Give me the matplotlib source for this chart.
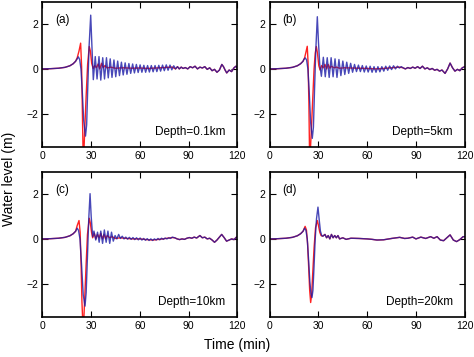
import matplotlib
matplotlib.use("Agg")
import matplotlib.pyplot as plt

plt.rcParams['font.family'] = ['Liberation Sans', 'DejaVu Sans']

# common pre-arrival rise (min, m)
pre_t = [0, 5, 10, 14, 17, 19, 20.5]
pre_y = [0.0, 0.01, 0.03, 0.07, 0.14, 0.23, 0.34]

# (a) depth 0.1 km
red_a_t = [21.5, 22.6, 23.6, 24.2, 24.7, 25.1, 25.6, 26.2, 27.0, 27.9, 28.9, 29.6, 30.4, 31.3, 32.3,
           33.3, 34.4, 35.4, 36.5, 37.5, 38.6, 40.0, 42.0, 45.0, 50.0, 55.0, 60.0, 65.0, 70.0, 75.0, 80.0]
red_a_y = [0.5, 0.8, 1.15, 0.1, -2.0, -3.7, -3.7, -2.6, -1.2, 0.2, 1.0, 0.8, 0.25, 0.02, 0.15,
           0.05, 0.22, 0.0, 0.25, 0.05, 0.15, 0.04, 0.08, 0.03, 0.05, 0.03, 0.04, 0.02, 0.04, 0.06, 0.08]
blue_a_t = [21.5, 22.2, 23.0, 23.8, 24.6, 25.5, 26.6, 27.3, 28.0, 28.8, 29.8, 30.5,
            31.4, 32.6, 33.7, 34.9, 36.0, 37.2, 38.3, 39.5, 40.6, 41.8, 42.9, 44.1, 45.2, 46.4,
            47.5, 48.7, 49.8, 51.0, 52.1, 53.3, 54.4, 55.6, 56.7, 57.9, 59.0, 60.2, 61.3, 62.5,
            63.6, 64.8, 65.9, 67.1, 68.2, 69.4, 70.5, 71.7, 72.8, 74.0, 75.1, 76.3, 77.4, 78.6,
            79.7, 80.9]
blue_a_y = [0.45, 0.54, 0.42, 0.0, -1.0, -2.3, -3.0, -2.5, -0.8, 1.0, 2.4, 1.1,
            -0.48, 0.55, -0.45, 0.55, -0.5, 0.5, -0.45, 0.5, -0.4, 0.45, -0.38, 0.4, -0.35, 0.35,
            -0.3, 0.3, -0.27, 0.27, -0.24, 0.24, -0.2, 0.22, -0.18, 0.2, -0.16, 0.18, -0.15, 0.16,
            -0.15, 0.15, -0.14, 0.15, -0.13, 0.15, -0.12, 0.16, -0.1, 0.17, -0.08, 0.18, -0.06, 0.17,
            -0.04, 0.14]
tail_a_t = [82.0, 83.2, 84.3, 85.5, 86.6, 88.0, 89.5, 91.0, 92.5, 94.0, 95.5, 97.0, 98.5, 100.0,
            101.5, 103.0, 104.5, 106.0, 107.5, 109.0, 110.5, 111.5, 112.5, 113.5, 115.0, 116.5,
            118.0, 119.2, 120.0]
tail_a_y = [0.0, 0.1, 0.0, 0.08, 0.02, 0.06, 0.0, 0.1, 0.05, 0.12, 0.0, 0.08, 0.04, 0.1,
            -0.02, 0.05, -0.08, -0.02, -0.15, -0.05, 0.2, 0.1, -0.05, -0.18, -0.05, -0.12,
            0.05, 0.12, 0.05]

# (b) depth 5 km
red_b_t = [21.5, 22.3, 23.1, 23.6, 24.1, 24.5, 25.0, 25.7, 26.5, 27.3, 28.0, 28.7, 29.4, 30.2, 31.0,
           32.0, 33.0, 34.0, 35.0, 36.0, 37.0, 38.0, 39.5, 41.0, 43.0, 46.0, 50.0, 55.0, 60.0, 65.0,
           70.0, 75.0, 80.0]
red_b_y = [0.5, 0.75, 1.01, 0.3, -1.5, -3.7, -3.7, -2.6, -1.3, 0.0, 0.7, 1.0, 0.7, 0.15, -0.05,
           0.15, 0.05, 0.2, 0.0, 0.2, 0.03, 0.12, 0.05, 0.08, 0.03, 0.05, 0.04, 0.03, 0.02, 0.0,
           0.02, 0.05, 0.08]
blue_b_t = [21.0, 21.9, 22.7, 23.5, 24.3, 25.2, 26.2, 26.9, 27.6, 28.4, 29.3, 30.0, 30.8,
            31.8, 33.0, 34.2, 35.4, 36.6, 37.8, 39.0, 40.2, 41.4, 42.6, 43.8, 45.0, 46.2, 47.4,
            48.6, 49.8, 51.0, 52.2, 53.4, 54.6, 55.8, 57.0, 58.2, 59.4, 60.6, 61.8, 63.0, 64.2,
            65.4, 66.6, 67.8, 69.0, 70.2, 71.4, 72.6, 73.8, 75.0, 76.2, 77.4, 78.6, 79.8, 81.0]
blue_b_y = [0.42, 0.49, 0.4, 0.0, -1.0, -2.4, -3.1, -2.6, -0.9, 0.9, 2.33, 1.2, 0.2,
            -0.33, 0.52, -0.35, 0.5, -0.38, 0.5, -0.35, 0.45, -0.38, 0.42, -0.3, 0.35, -0.25, 0.3,
            -0.2, 0.25, -0.15, 0.2, -0.12, 0.17, -0.12, 0.15, -0.14, 0.13, -0.14, 0.12, -0.15, 0.1,
            -0.15, 0.1, -0.13, 0.1, -0.1, 0.12, -0.06, 0.13, -0.03, 0.14, 0.0, 0.12, 0.04, 0.1]
tail_b_t = [82.0, 83.5, 85.0, 86.5, 88.0, 89.5, 91.0, 92.5, 94.0, 95.5, 97.0, 98.5, 100.0, 101.5,
            103.0, 104.5, 106.0, 107.9, 109.5, 111.0, 112.5, 114.0, 115.5, 117.0, 118.5, 120.0]
tail_b_y = [0.05, 0.0, 0.06, 0.02, 0.08, 0.03, 0.1, 0.02, 0.12, 0.0, 0.05, -0.03, 0.02, -0.06,
            -0.02, -0.1, -0.05, -0.2, 0.0, 0.26, 0.05, -0.1, -0.02, -0.08, 0.05, 0.1]

# (c) depth 10 km
red_c_t = [21.5, 22.6, 23.3, 23.9, 24.4, 24.9, 25.5, 26.2, 27.0, 27.8, 28.9, 29.6, 30.3, 31.0, 32.0,
           33.0, 34.0, 35.0, 36.0, 37.0, 38.0, 39.0, 40.0, 41.5, 43.0, 45.0, 48.0, 52.0, 56.0, 60.0,
           64.0, 68.0, 72.0, 76.0, 80.0]
red_c_y = [0.6, 0.82, 0.3, -1.2, -2.8, -3.7, -3.7, -2.5, -1.1, 0.2, 0.92, 0.7, 0.3, 0.05, 0.25,
           0.0, 0.2, 0.05, 0.25, 0.0, 0.2, 0.0, 0.15, 0.05, 0.1, 0.02, 0.05, 0.02, 0.0, 0.0,
           -0.03, -0.05, -0.02, 0.02, 0.06]
blue_c_t = [21.5, 22.3, 23.2, 24.2, 25.2, 26.3, 27.0, 27.8, 28.6, 29.4, 30.1, 31.0,
            31.8, 32.9, 34.0, 35.0, 36.0, 37.1, 38.2, 39.3, 40.4, 41.5, 42.6, 43.7, 44.8, 45.9,
            47.0, 48.1, 49.2, 50.3, 51.4, 52.5, 53.6, 54.7, 55.8, 56.9, 58.0, 59.1, 60.2, 61.3,
            62.4, 63.5, 64.6, 65.7, 66.8, 67.9, 69.0, 70.1, 71.2, 72.3, 73.4, 74.5, 75.6, 76.7,
            77.8, 78.9, 80.0]
blue_c_y = [0.48, 0.38, 0.0, -1.2, -2.5, -3.0, -2.4, -0.8, 0.9, 2.02, 1.0, 0.1,
            0.35, -0.05, 0.3, -0.15, 0.35, -0.2, 0.4, -0.15, 0.35, -0.2, 0.3, -0.1, 0.15, 0.0,
            0.2, 0.02, 0.12, 0.0, 0.08, -0.01, 0.07, -0.02, 0.06, -0.03, 0.05, -0.04, 0.04, -0.05,
            0.02, -0.06, 0.01, -0.07, 0.0, -0.07, 0.0, -0.05, 0.02, -0.04, 0.03, -0.02, 0.04, 0.0,
            0.05, 0.02, 0.08]
tail_c_t = [81.5, 83.0, 84.5, 86.0, 87.5, 89.0, 90.5, 92.0, 93.5, 95.0, 97.0, 98.5, 100.0, 101.5,
            103.0, 104.5, 106.0, 107.5, 109.0, 110.4, 112.0, 113.4, 115.0, 116.5, 118.0, 119.5, 120.0]
tail_c_y = [0.05, 0.0, -0.03, 0.0, -0.02, 0.03, 0.06, 0.03, 0.08, 0.04, 0.15, 0.05, 0.08, 0.0,
            0.03, -0.05, -0.15, -0.05, 0.08, 0.2, 0.05, -0.1, -0.05, 0.0, -0.03, 0.08, 0.06]

# (d) depth 20 km
red_d_t = [21.8, 22.6, 23.3, 24.0, 24.6, 25.2, 25.8, 26.5, 27.3, 28.2, 29.3, 30.0, 30.8, 31.6, 32.5]
red_d_y = [0.56, 0.4, -0.2, -1.3, -2.3, -2.84, -2.5, -1.5, -0.4, 0.5, 0.82, 0.6, 0.3, 0.15, 0.12]
blue_d_t = [21.5, 22.3, 23.1, 23.9, 24.7, 25.4, 26.0, 26.6, 27.3, 28.0, 28.8, 29.7, 30.4, 31.2,
            32.0, 32.8]
blue_d_y = [0.48, 0.38, 0.0, -0.9, -1.9, -2.45, -2.62, -2.3, -1.2, 0.0, 0.9, 1.42, 0.9, 0.35,
            0.15, 0.12]
tail_d_t = [34.0, 35.0, 36.0, 37.0, 38.0, 39.0, 40.0, 41.0, 42.0, 43.0, 45.0, 47.0, 50.0, 55.0,
            60.0, 63.0, 66.0, 70.0, 75.0, 80.0, 83.0, 85.0, 88.0, 90.0, 93.0, 96.0, 99.0, 101.0,
            103.0, 105.0, 107.0, 109.0, 111.0, 113.0, 115.0, 117.0, 119.0, 120.0]
tail_d_y = [0.2, 0.05, 0.15, 0.0, 0.2, 0.05, 0.15, 0.05, 0.15, 0.0, 0.05, -0.02, 0.03, 0.02,
            0.0, -0.02, -0.05, -0.04, 0.02, 0.07, 0.02, 0.03, 0.08, 0.0, 0.08, 0.02, 0.1, 0.03,
            0.1, -0.05, -0.08, 0.05, 0.18, -0.05, -0.12, -0.03, 0.1, 0.1]

panels = [
    ("(a)", "Depth=0.1km", red_a_t, red_a_y, blue_a_t, blue_a_y, tail_a_t, tail_a_y),
    ("(b)", "Depth=5km", red_b_t, red_b_y, blue_b_t, blue_b_y, tail_b_t, tail_b_y),
    ("(c)", "Depth=10km", red_c_t, red_c_y, blue_c_t, blue_c_y, tail_c_t, tail_c_y),
    ("(d)", "Depth=20km", red_d_t, red_d_y, blue_d_t, blue_d_y, tail_d_t, tail_d_y),
]

fig = plt.figure(figsize=(4.74, 3.57), dpi=100)

lefts = [0.0892, 0.569, 0.0892, 0.569]
bottoms = [0.5874, 0.5874, 0.1112, 0.1112]

for i, (tag, depth, rt, ry, bt, by, tt, ty) in enumerate(panels):
    ax = fig.add_axes([lefts[i], bottoms[i], 0.4114, 0.4078])
    ax.plot(pre_t + rt + tt, pre_y + ry + ty, color='#ff2222', lw=1.0)
    ax.plot(pre_t + bt + tt, pre_y + by + ty, color='#1a1aa6', lw=1.0, alpha=0.8)
    ax.set_xlim(0, 120)
    ax.set_ylim(-3.5, 3.0)
    ax.set_xticks([0, 30, 60, 90, 120])
    ax.set_yticks([-2, 0, 2])
    ax.set_yticklabels(['\u22122', '0', '2'])
    ax.tick_params(direction='in', length=4, width=0.8, top=True, right=True,
                   labelsize=7.5, pad=3)
    for s in ax.spines.values():
        s.set_linewidth(1.2)
    ax.text(0.065, 0.874, tag, transform=ax.transAxes, fontsize=8.5, va='center', ha='left')
    ax.text(0.94, 0.107, depth, transform=ax.transAxes, fontsize=8.5, va='center', ha='right')

fig.text(0.5, 0.035, "Time (min)", ha='center', va='center', fontsize=10)
fig.text(0.018, 0.5, "Water level (m)", ha='center', va='center', rotation=90, fontsize=10)

fig.savefig("out.png", dpi=100)
